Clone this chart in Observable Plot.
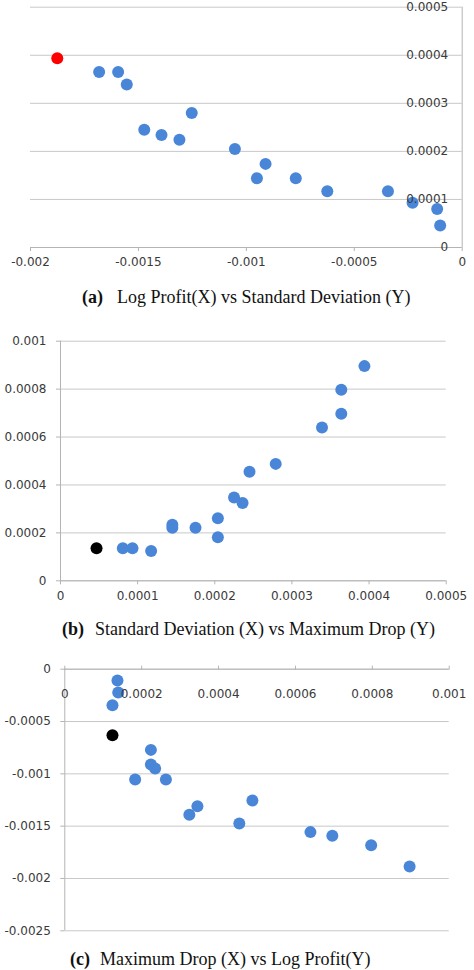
<!DOCTYPE html>
<html><head><meta charset="utf-8">
<script src="https://cdn.jsdelivr.net/npm/d3@7"></script>
<script src="https://cdn.jsdelivr.net/npm/@observablehq/plot@0.6"></script>
<style>
body{margin:0;background:#fff}
#root{position:relative;width:474px;height:970px;overflow:hidden;background:#fff}
.panel{position:absolute;left:0}
.cap{position:absolute;font-family:"Liberation Serif","Times New Roman",serif;font-size:18px;line-height:18px;white-space:nowrap;color:#111}
.cap b{display:inline-block}
</style></head>
<body><div id="root"></div>
<script>
// (a) Log Profit (X) vs Standard Deviation (Y)
const aLogProfit = [-0.001876, -0.001682, -0.001594, -0.001554, -0.001253, -0.001473, -0.001393, -0.00131, -0.001053, -0.000911, -0.000951, -0.000771, -0.000625, -0.000344, -0.00023, -0.000116, -0.000102];
const aStdDev    = [0.000394, 0.000365, 0.000365, 0.000339, 0.00028, 0.000245, 0.000234, 0.000224, 0.000205, 0.000174, 0.000144, 0.000144, 0.000117, 0.000117, 0.000093, 0.00008, 0.000046];
const aHighlight = 0;
const aXTicks = [-0.002, -0.0015, -0.001, -0.0005, 0];
const aYTicks = [0, 0.0001, 0.0002, 0.0003, 0.0004, 0.0005];

// (b) Standard Deviation (X) vs Maximum Drop (Y)
const bStdDev  = [0.0000467, 0.0000808, 0.0000933, 0.0001175, 0.000145, 0.000145, 0.000175, 0.000204, 0.000204, 0.000225, 0.000236, 0.000245, 0.000279, 0.000339, 0.000364, 0.000364, 0.000394];
const bMaxDrop = [0.000136, 0.000136, 0.000136, 0.000124, 0.000234, 0.000221, 0.000221, 0.000261, 0.000182, 0.000348, 0.000325, 0.000455, 0.000488, 0.00064, 0.000697, 0.000797, 0.000896];
const bHighlight = 0;
const bXTicks = [0, 0.0001, 0.0002, 0.0003, 0.0004, 0.0005];
const bYTicks = [0, 0.0002, 0.0004, 0.0006, 0.0008, 0.001];

// (c) Maximum Drop (X) vs Log Profit (Y)
const cMaxDrop   = [0.000124, 0.000137, 0.000139, 0.000124, 0.000224, 0.000224, 0.000235, 0.000183, 0.000263, 0.000324, 0.000345, 0.000454, 0.000488, 0.000639, 0.000696, 0.000797, 0.000897];
const cLogProfit = [-0.000631, -0.000108, -0.000223, -0.000344, -0.000771, -0.000911, -0.000949, -0.001054, -0.001054, -0.001392, -0.001309, -0.001475, -0.001255, -0.001557, -0.001592, -0.001682, -0.001885];
const cHighlight = 0;
const cXTicks = [0, 0.0002, 0.0004, 0.0006, 0.0008, 0.001];
const cYTicks = [0, -0.0005, -0.001, -0.0015, -0.002, -0.0025];

const captions = [
  {label: "(a)", text: "Log Profit(X) vs Standard Deviation (Y)"},
  {label: "(b)", text: "Standard Deviation (X) vs Maximum Drop (Y)"},
  {label: "(c)", text: "Maximum Drop (X) vs Log Profit(Y)"}
];

const BLUE = "#4a86d8", GRID = "#c8c8c8", AXIS = "#b4b4b4", TXT = "#3a3a3a";
const fmt = d => String(d);
const rows = (xs, ys, hi) => xs.map((x, i) => ({x, y: ys[i], hi: i === hi}));
const root = document.getElementById("root");

function addPanel(top, svg) {
  const div = document.createElement("div");
  div.className = "panel"; div.style.top = top + "px";
  div.appendChild(svg); root.appendChild(div);
}
function addCaption(c, left, top, gap) {
  const div = document.createElement("div");
  div.className = "cap"; div.style.left = left + "px"; div.style.top = top + "px";
  const b = document.createElement("b"); b.textContent = c.label; b.style.marginRight = gap + "px";
  div.appendChild(b); div.appendChild(document.createTextNode(c.text));
  root.appendChild(div);
}
const style = {fontFamily: "DejaVu Sans", fontSize: "12px", color: TXT, background: "transparent", overflow: "visible"};
const tickOpts = {tickSize: 4, tickFormat: () => "", stroke: AXIS, label: null};

// Panel (a)
const dA = rows(aLogProfit, aStdDev, aHighlight);
addPanel(0, Plot.plot({
  width: 474, height: 280, marginLeft: 30, marginRight: 12.3, marginTop: 6.7, marginBottom: 33,
  x: {domain: [-0.002, 0], axis: null}, y: {domain: [0, 0.0005], axis: null},
  style,
  marks: [
    Plot.ruleY(aYTicks, {y: d => d, stroke: GRID}),
    Plot.ruleX([0], {x: d => d, stroke: AXIS}),
    Plot.ruleY([0], {y: d => d, stroke: AXIS}),
    Plot.axisX(aXTicks, {anchor: "bottom", ...tickOpts}),
    Plot.dot(dA.filter(d => !d.hi), {x: "x", y: "y", r: 6, fill: BLUE}),
    Plot.dot(dA.filter(d => d.hi), {x: "x", y: "y", r: 6, fill: "#ff0000"}),
    Plot.text(aXTicks, {x: d => d, frameAnchor: "bottom", dy: 18.5, text: fmt, fill: TXT}),
    Plot.text(aYTicks, {y: d => d, frameAnchor: "right", dx: -14, textAnchor: "end", text: fmt, fill: TXT})
  ]
}));
addCaption(captions[0], 82, 287.6, 14);

// Panel (b)
const dB = rows(bStdDev, bMaxDrop, bHighlight);
addPanel(320, Plot.plot({
  width: 474, height: 290, marginLeft: 60, marginRight: 28.3, marginTop: 20.7, marginBottom: 29.7,
  x: {domain: [0, 0.0005], axis: null}, y: {domain: [0, 0.001], axis: null},
  style,
  marks: [
    Plot.ruleY(bYTicks, {y: d => d, stroke: GRID}),
    Plot.ruleX([0], {x: d => d, stroke: AXIS}),
    Plot.ruleY([0], {y: d => d, stroke: AXIS}),
    Plot.axisX(bXTicks, {anchor: "bottom", ...tickOpts}),
    Plot.axisY(bYTicks, {anchor: "left", ...tickOpts}),
    Plot.dot(dB.filter(d => !d.hi), {x: "x", y: "y", r: 6, fill: BLUE}),
    Plot.dot(dB.filter(d => d.hi), {x: "x", y: "y", r: 6, fill: "#000"}),
    Plot.text(bXTicks, {x: d => d, frameAnchor: "bottom", dy: 19, text: fmt, fill: TXT}),
    Plot.text(bYTicks, {y: d => d, frameAnchor: "left", dx: -14, textAnchor: "end", text: fmt, fill: TXT})
  ]
}));
addCaption(captions[1], 62, 619.9, 11);

// Panel (c)
const dC = rows(cMaxDrop, cLogProfit, cHighlight);
addPanel(640, Plot.plot({
  width: 474, height: 300, marginLeft: 64.3, marginRight: 25.3, marginTop: 28.7, marginBottom: 9.7,
  x: {domain: [0, 0.001], axis: null}, y: {domain: [-0.0025, 0], axis: null},
  style,
  marks: [
    Plot.ruleY(cYTicks, {y: d => d, stroke: GRID}),
    Plot.ruleX([0], {x: d => d, stroke: AXIS}),
    Plot.ruleY([0], {y: d => d, stroke: AXIS}),
    Plot.axisX(cXTicks, {anchor: "top", ...tickOpts}),
    Plot.axisY(cYTicks, {anchor: "left", ...tickOpts}),
    Plot.dot(dC.filter(d => !d.hi), {x: "x", y: "y", r: 6, fill: BLUE}),
    Plot.dot(dC.filter(d => d.hi), {x: "x", y: "y", r: 6, fill: "#000"}),
    Plot.text(cXTicks, {x: d => d, frameAnchor: "top", dy: 20, text: fmt, fill: TXT}),
    Plot.text(cYTicks, {y: d => d, frameAnchor: "left", dx: -14, textAnchor: "end", text: fmt, fill: TXT})
  ]
}));
addCaption(captions[2], 70, 949.9, 10);
</script></body></html>
